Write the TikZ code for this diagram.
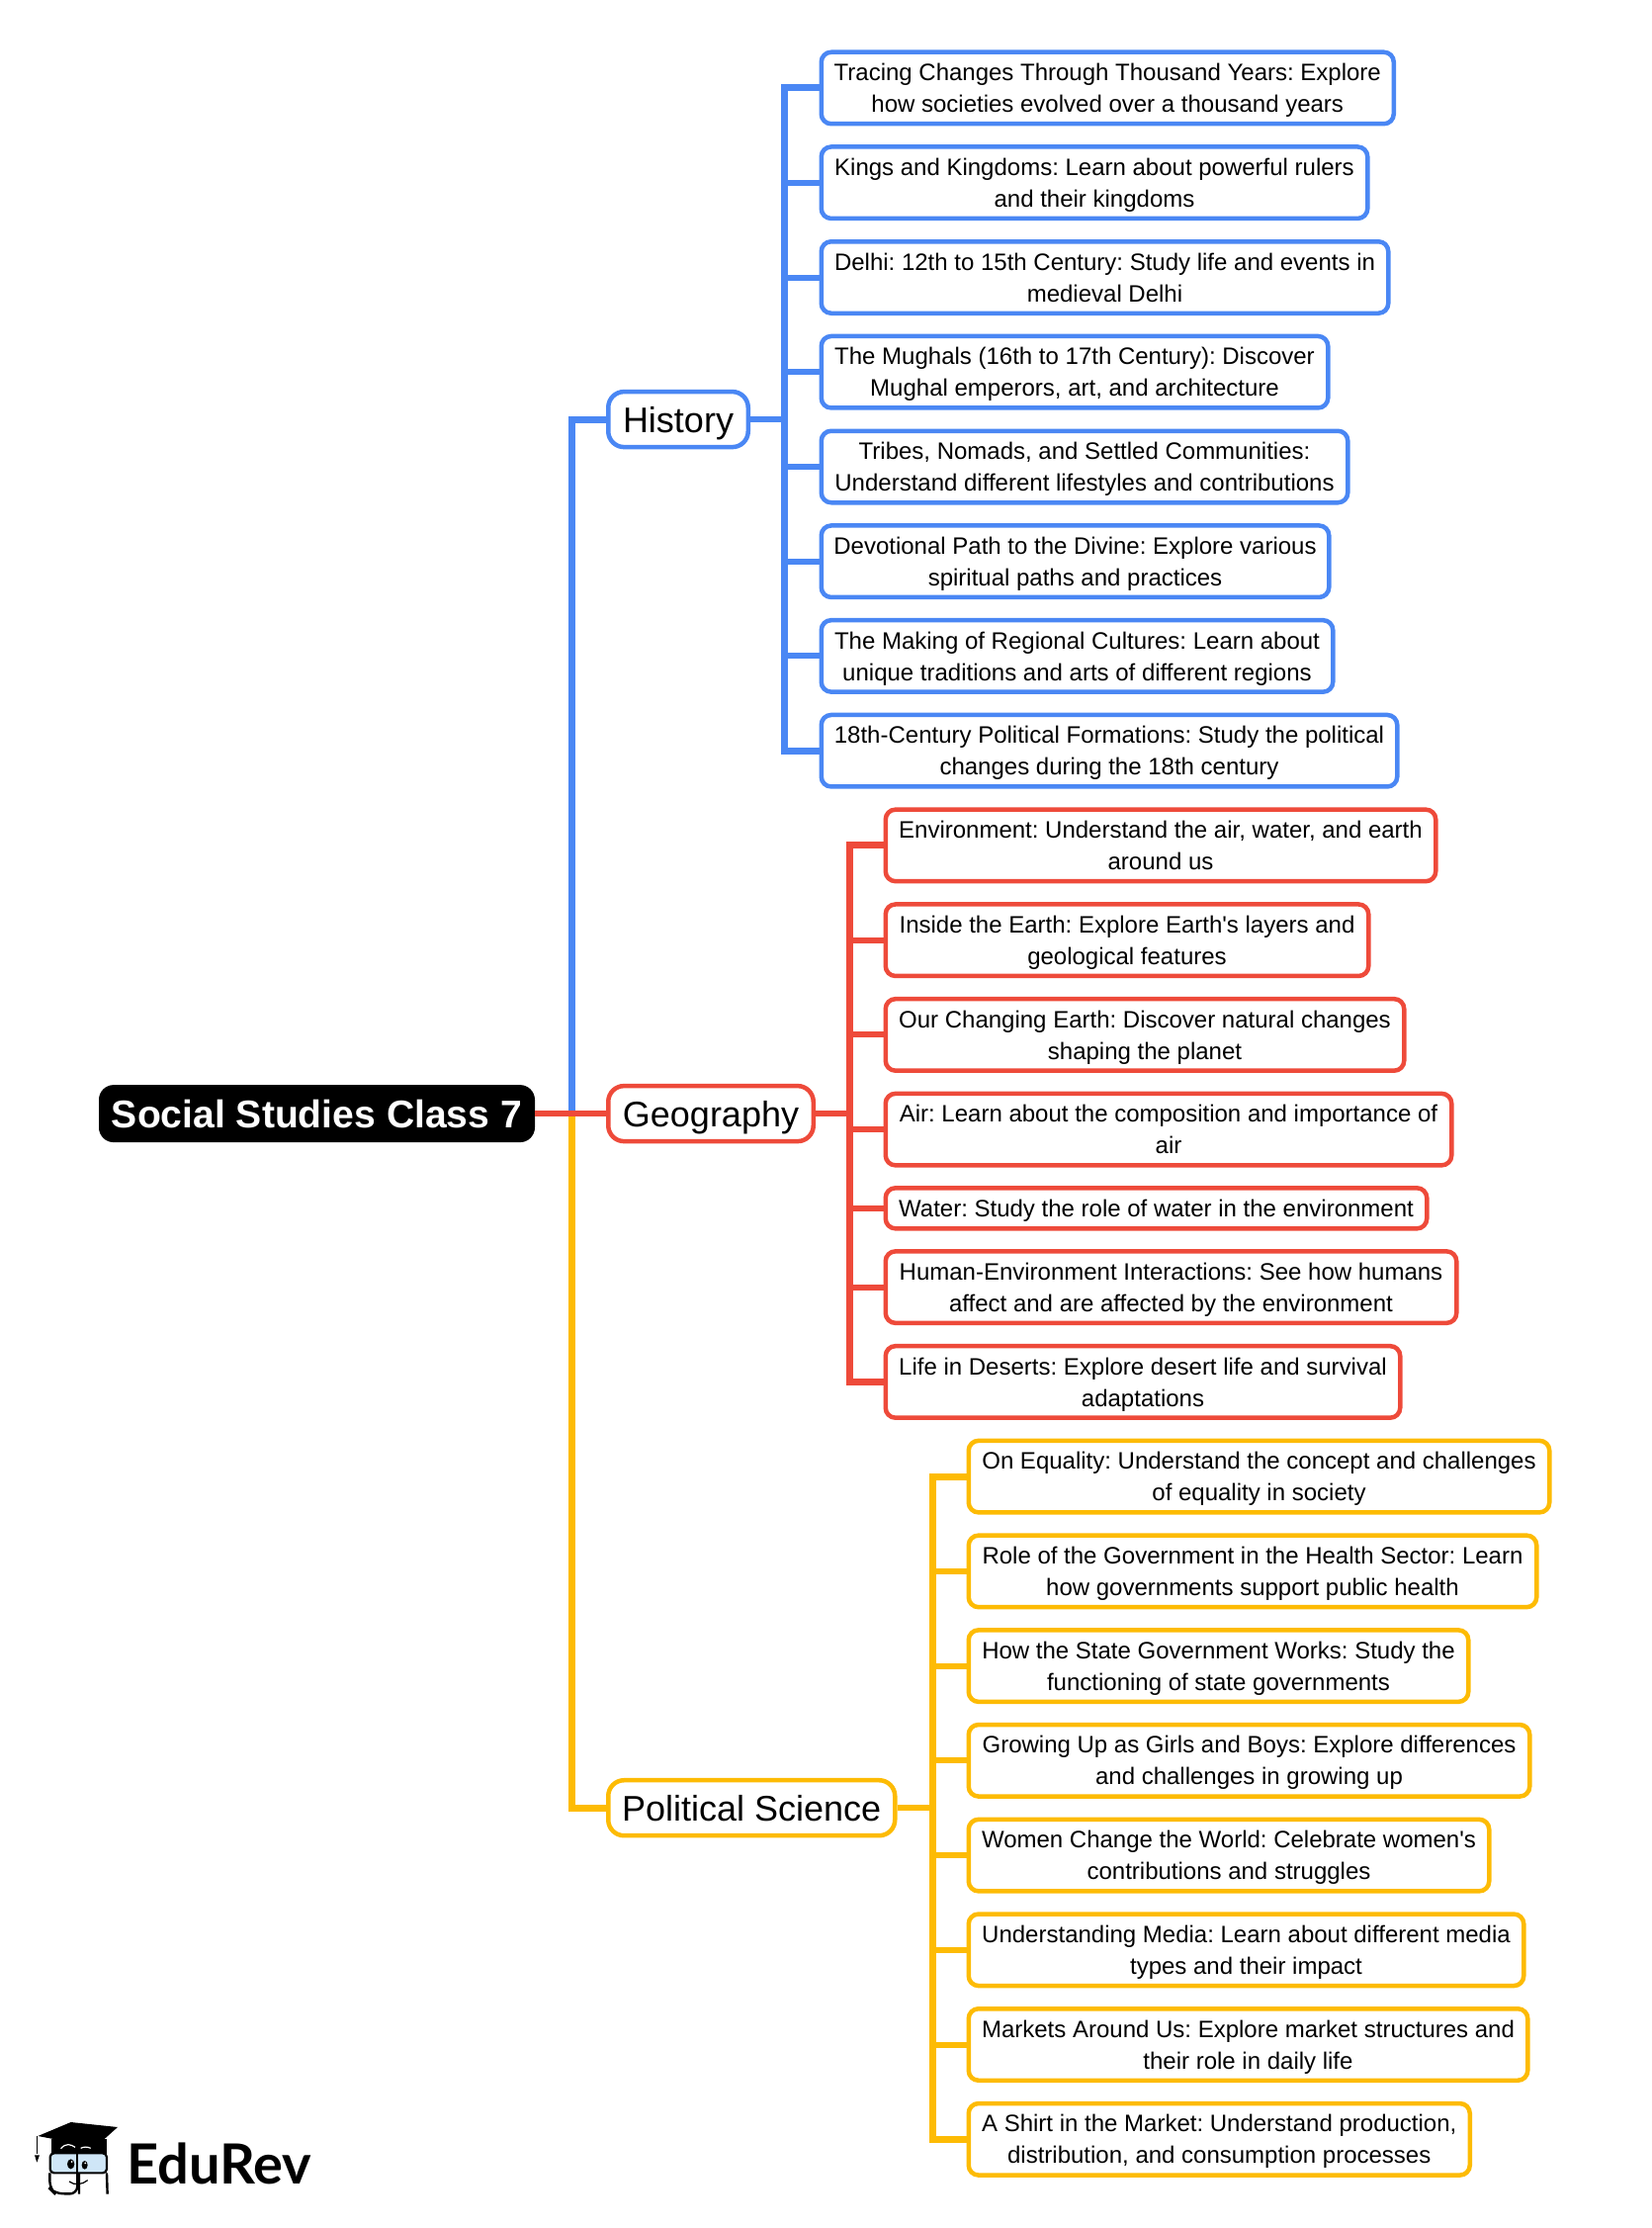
\documentclass[tikz,border=0pt]{standalone}
\usepackage{fontspec}
\setmainfont[Ligatures=TeXOff]{Liberation Sans}
\newfontfamily\logofont{Lato}
\definecolor{cblue}{HTML}{4A87F4}
\definecolor{cred}{HTML}{EE4A3A}
\definecolor{cyel}{HTML}{FDBB04}
\definecolor{lens}{HTML}{CFE6F7}
\frenchspacing
\tikzset{
  leaf/.style={draw=#1,fill=white,line width=4.5pt,rounded corners=10pt,inner sep=0pt,
    font=\fontsize{24}{32}\selectfont\frenchspacing,text=black},
  branch/.style={draw=#1,fill=white,line width=4.5pt,rounded corners=16pt,inner sep=0pt,
    font=\fontsize{36}{40}\selectfont,text=black},
  rootbox/.style={fill=black,rounded corners=15pt,inner sep=0pt,
    font=\fontsize{39.1}{44}\selectfont\bfseries,text=white},
  conn/.style={draw=#1,line width=6pt,line cap=butt,line join=miter},
  spine/.style={draw=#1,line width=7pt,line cap=butt,line join=miter},
}
% exact text boxes: node centre falls midway between first cap top and last baseline
\newcommand{\twol}[1]{\raisebox{0pt}[49.2pt][0pt]{\begin{tabular}[b]{@{}c@{}}#1\end{tabular}}}
\newcommand{\onel}[1]{\raisebox{0pt}[17.2pt][0pt]{#1}}
\newcommand{\brl}[1]{\raisebox{0pt}[25.8pt][0pt]{#1}}
\newcommand{\rtl}[1]{\raisebox{0pt}[28pt][0pt]{#1}}
% name, style, colour, outer left, outer right, centre y, outer height, text
\newcommand{\placebox}[8]{%
  \pgfmathsetmacro{\bw}{#5-#4-1.5}%
  \pgfmathsetmacro{\bh}{#7-4.5}%
  \pgfmathsetmacro{\bx}{(#4+#5)/2}%
  \node[#2=#3,minimum width=\bw pt,minimum height=\bh pt] (#1) at (\bx,#6) {#8};%
}
\begin{document}
\begin{tikzpicture}[x=1pt,y=-1pt]
\useasboundingbox (0,0) rectangle (1670,2253);
\coordinate (hbar) at (793,424.1);
\coordinate (gbar) at (859,1126.1);
\coordinate (pbar) at (943.5,1828.2);
\coordinate (tr) at (578,1126.1);

% History leaves
\placebox{h1}{leaf}{cblue}{830}{1410.5}{89}{77}{\twol{Tracing Changes Through Thousand Years: Explore\\how societies evolved over a thousand years}}
\placebox{h2}{leaf}{cblue}{830}{1384}{184.7}{77}{\twol{Kings and Kingdoms: Learn about powerful rulers\\and their kingdoms}}
\placebox{h3}{leaf}{cblue}{830}{1405}{280.5}{77}{\twol{Delhi: 12th to 15th Century: Study life and events in\\medieval Delhi}}
\placebox{h4}{leaf}{cblue}{830}{1344}{376.2}{77}{\twol{The Mughals (16th to 17th Century): Discover\\Mughal emperors, art, and architecture}}
\placebox{h5}{leaf}{cblue}{830}{1364}{472}{77}{\twol{Tribes, Nomads, and Settled Communities:\\Understand different lifestyles and contributions}}
\placebox{h6}{leaf}{cblue}{830}{1345}{567.7}{77}{\twol{Devotional Path to the Divine: Explore various\\spiritual paths and practices}}
\placebox{h7}{leaf}{cblue}{830}{1349}{663.4}{77}{\twol{The Making of Regional Cultures: Learn about\\unique traditions and arts of different regions}}
\placebox{h8}{leaf}{cblue}{830}{1414}{759.2}{77}{\twol{18th-Century Political Formations: Study the political\\changes during the 18th century}}
% Geography leaves
\placebox{g1}{leaf}{cred}{895}{1453}{854.9}{77}{\twol{Environment: Understand the air, water, and earth\\around us}}
\placebox{g2}{leaf}{cred}{895}{1385}{950.7}{77}{\twol{Inside the Earth: Explore Earth's layers and\\geological features}}
\placebox{g3}{leaf}{cred}{895}{1421}{1046.4}{77}{\twol{Our Changing Earth: Discover natural changes\\shaping the planet}}
\placebox{g4}{leaf}{cred}{895}{1469}{1142.1}{77}{\twol{Air: Learn about the composition and importance of\\air}}
\placebox{g5}{leaf}{cred}{895}{1444}{1221.8}{45.5}{\onel{Water: Study the role of water in the environment}}
\placebox{g6}{leaf}{cred}{895}{1474}{1301.6}{77}{\twol{Human-Environment Interactions: See how humans\\affect and are affected by the environment}}
\placebox{g7}{leaf}{cred}{895}{1417}{1397.4}{77}{\twol{Life in Deserts: Explore desert life and survival\\adaptations}}
% Political Science leaves
\placebox{p1}{leaf}{cyel}{979}{1568}{1493.1}{77}{\twol{On Equality: Understand the concept and challenges\\of equality in society}}
\placebox{p2}{leaf}{cyel}{979}{1555}{1588.9}{77}{\twol{Role of the Government in the Health Sector: Learn\\how governments support public health}}
\placebox{p3}{leaf}{cyel}{979}{1486}{1684.6}{77}{\twol{How the State Government Works: Study the\\functioning of state governments}}
\placebox{p4}{leaf}{cyel}{979}{1548}{1780.3}{77}{\twol{Growing Up as Girls and Boys: Explore differences\\and challenges in growing up}}
\placebox{p5}{leaf}{cyel}{979}{1507}{1876.1}{77}{\twol{Women Change the World: Celebrate women's\\contributions and struggles}}
\placebox{p6}{leaf}{cyel}{979}{1542}{1971.8}{77}{\twol{Understanding Media: Learn about different media\\types and their impact}}
\placebox{p7}{leaf}{cyel}{979}{1546}{2067.5}{77}{\twol{Markets Around Us: Explore market structures and\\their role in daily life}}
\placebox{p8}{leaf}{cyel}{979}{1487.5}{2163.3}{77}{\twol{A Shirt in the Market: Understand production,\\distribution, and consumption processes}}
% Branches and root
\placebox{H}{branch}{cblue}{614.5}{757.5}{424.1}{60.5}{\brl{History}}
\placebox{G}{branch}{cred}{614.5}{823.5}{1126.1}{60.5}{\brl{Geography}}
\placebox{P}{branch}{cyel}{614.5}{906}{1828.2}{60.5}{\brl{Political Science}}
\node[rootbox,minimum width=441pt,minimum height=58pt] (root) at (320.5,1126.1) {\rtl{Social Studies Class 7}};

% Connectors
\draw[spine=cblue] (h1.west) -| (hbar) |- (h8.west);
\foreach \n in {h2,h3,h4,h5,h6,h7} \draw[conn=cblue] (\n.west) -- (\n.west -| hbar);
\draw[conn=cblue] (H.east) -- (hbar);
\draw[spine=cred] (g1.west) -| (gbar) |- (g7.west);
\foreach \n in {g2,g3,g4,g5,g6} \draw[conn=cred] (\n.west) -- (\n.west -| gbar);
\draw[conn=cred] (G.east) -- (gbar);
\draw[spine=cyel] (p1.west) -| (pbar) |- (p8.west);
\foreach \n in {p2,p3,p4,p5,p6,p7} \draw[conn=cyel] (\n.west) -- (\n.west -| pbar);
\draw[conn=cyel] (P.east) -- (pbar);
\draw[spine=cblue] (H.west) -| (tr);
\draw[spine=cyel] (P.west) -| (tr);
\draw[conn=cred] (root.east) -- (G.west);

% Logo
\begin{scope}[shift={(0,2100)},x=0.3333pt,y=-0.3333pt]
  \fill (155,190) -- (325,190) -- (325,240) -- (155,240) -- cycle;
  \draw[line width=2.2pt,fill=lens,rounded corners=4pt] (152,232) rectangle (324,292);
  \draw[line width=2.4pt,rounded corners=8pt] (235,292) -- (235,356) -- (165,354) -- (151,340) -- (151,292);
  \draw[line width=2.4pt,rounded corners=8pt] (240,292) -- (240,356) (324,292) -- (326,356);
  \draw[line width=1.8pt] (235,228) -- (235,292);
  \fill (215,265) ellipse (11 and 15);
  \fill (257,268) ellipse (9 and 13);
  \fill[white] (218,258) circle (3) (259,262) circle (3);
  \draw[line width=1.2pt] (210,318) .. controls (225,330) and (250,328) .. (266,314);
  \draw[white,line width=1.2pt] (185,218) .. controls (200,200) and (215,205) .. (228,214);
  \draw[white,line width=1.2pt] (245,217) .. controls (255,212) and (265,212) .. (275,217);
  \fill (115,180) -- (215,138) -- (357,153) -- (290,213) -- cycle;
  \draw[line width=1.2pt] (112,180) -- (112,235);
  \fill (105,238) -- (120,238) -- (112,260) -- cycle;
  \node[anchor=base west,inner sep=0pt,text=black,font=\logofont\bfseries\fontsize{56}{60}\selectfont] (logo) at (384,325) {EduRev};
\end{scope}
\end{tikzpicture}
\end{document}
